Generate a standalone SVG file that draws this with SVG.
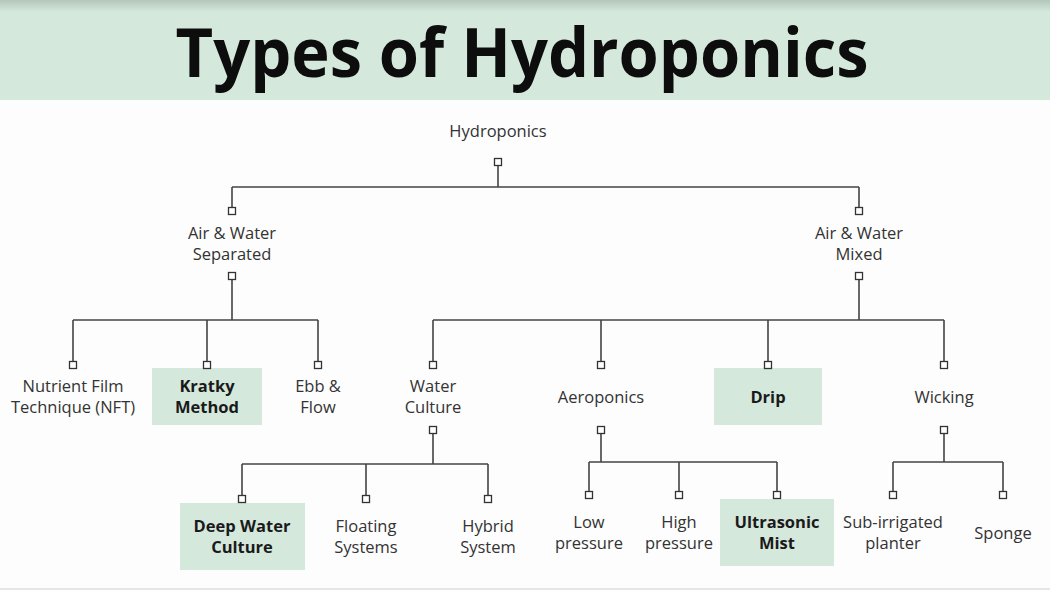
<svg xmlns="http://www.w3.org/2000/svg" width="1050" height="591" viewBox="0 0 1050 591">
  <defs>
    <linearGradient id="topShade" x1="0" y1="0" x2="0" y2="1">
      <stop offset="0" stop-color="#b3c6b9"/>
      <stop offset="1" stop-color="#d5e8dc"/>
    </linearGradient>
  </defs>
  <style>
    .lbl { font-family: "Open Sans", "Liberation Sans", sans-serif; font-size: 16.5px; fill: #333; text-anchor: middle; }
    .bold { font-weight: 700; fill: #1a1a1a; }
    .hl { fill: #d5e8dc; }
    .sq { fill: #fff; stroke: #333; stroke-width: 1.3; }
    .wire { fill: none; stroke: #444; stroke-width: 1.6; }
  </style>
  <rect x="0" y="0" width="1050" height="591" fill="#fdfdfd"/>
  <g id="title">
    <rect x="0" y="0" width="1050" height="100" fill="#d5e8dc"/>
    <rect x="0" y="0" width="1050" height="12" fill="url(#topShade)"/>
    <text x="522" y="77" font-family="'Open Sans', 'Liberation Sans', sans-serif" font-size="68" font-weight="700" fill="#0d0d0d" text-anchor="middle" textLength="693" lengthAdjust="spacingAndGlyphs">Types of Hydroponics</text>
  </g>
  <line x1="0" y1="589" x2="1050" y2="589" stroke="#e6e6e6" stroke-width="2"/>

  <g id="connectors">
    <path class="wire" d="M498 165.5V187 M232 187H859 M232 187V207.5 M859 187V207.5"/>
    <path class="wire" d="M232 279.5V320 M73 320H318 M73 320V361.5 M207 320V361.5 M318 320V361.5"/>
    <path class="wire" d="M859 279.5V320 M433 320H944 M433 320V361.5 M601 320V361.5 M768 320V361.5 M944 320V361.5"/>
    <path class="wire" d="M433 433.5V464 M242 464H488 M242 464V495.5 M366 464V495.5 M488 464V495.5"/>
    <path class="wire" d="M601 433.5V462 M589 462H777 M589 462V491.5 M679 462V491.5 M777 462V491.5"/>
    <path class="wire" d="M944 433.5V462 M893 462H1003 M893 462V491.5 M1003 462V491.5"/>
  </g>

  <g id="node-hydroponics">
    <text class="lbl" x="498" y="137">Hydroponics</text>
    <rect class="sq" x="494.5" y="158.5" width="7" height="7"/>
  </g>
  <g id="node-separated">
    <rect class="sq" x="228.5" y="207.5" width="7" height="7"/>
    <text class="lbl" x="232" y="239">Air &amp; Water</text>
    <text class="lbl" x="232" y="260">Separated</text>
    <rect class="sq" x="228.5" y="272.5" width="7" height="7"/>
  </g>
  <g id="node-mixed">
    <rect class="sq" x="855.5" y="207.5" width="7" height="7"/>
    <text class="lbl" x="859" y="239">Air &amp; Water</text>
    <text class="lbl" x="859" y="260">Mixed</text>
    <rect class="sq" x="855.5" y="272.5" width="7" height="7"/>
  </g>
  <g id="node-nft">
    <rect class="sq" x="69.5" y="361.5" width="7" height="7"/>
    <text class="lbl" x="73" y="392">Nutrient Film</text>
    <text class="lbl" x="73" y="413">Technique (NFT)</text>
  </g>
  <g id="node-kratky">
    <rect class="hl" x="152" y="368" width="110" height="57"/>
    <rect class="sq" x="203.5" y="361.5" width="7" height="7"/>
    <text class="lbl bold" x="207" y="392">Kratky</text>
    <text class="lbl bold" x="207" y="413">Method</text>
  </g>
  <g id="node-ebb">
    <rect class="sq" x="314.5" y="361.5" width="7" height="7"/>
    <text class="lbl" x="318" y="392">Ebb &amp;</text>
    <text class="lbl" x="318" y="413">Flow</text>
  </g>
  <g id="node-water-culture">
    <rect class="sq" x="429.5" y="361.5" width="7" height="7"/>
    <text class="lbl" x="433" y="392">Water</text>
    <text class="lbl" x="433" y="413">Culture</text>
    <rect class="sq" x="429.5" y="426.5" width="7" height="7"/>
  </g>
  <g id="node-aeroponics">
    <rect class="sq" x="597.5" y="361.5" width="7" height="7"/>
    <text class="lbl" x="601" y="403">Aeroponics</text>
    <rect class="sq" x="597.5" y="426.5" width="7" height="7"/>
  </g>
  <g id="node-drip">
    <rect class="hl" x="714" y="368" width="108" height="57"/>
    <rect class="sq" x="764.5" y="361.5" width="7" height="7"/>
    <text class="lbl bold" x="768" y="403">Drip</text>
  </g>
  <g id="node-wicking">
    <rect class="sq" x="940.5" y="361.5" width="7" height="7"/>
    <text class="lbl" x="944" y="403">Wicking</text>
    <rect class="sq" x="940.5" y="426.5" width="7" height="7"/>
  </g>
  <g id="node-dwc">
    <rect class="hl" x="180" y="503" width="125" height="67"/>
    <rect class="sq" x="238.5" y="495.5" width="7" height="7"/>
    <text class="lbl bold" x="242" y="532">Deep Water</text>
    <text class="lbl bold" x="242" y="553">Culture</text>
  </g>
  <g id="node-floating">
    <rect class="sq" x="362.5" y="495.5" width="7" height="7"/>
    <text class="lbl" x="366" y="532">Floating</text>
    <text class="lbl" x="366" y="553">Systems</text>
  </g>
  <g id="node-hybrid">
    <rect class="sq" x="484.5" y="495.5" width="7" height="7"/>
    <text class="lbl" x="488" y="532">Hybrid</text>
    <text class="lbl" x="488" y="553">System</text>
  </g>
  <g id="node-low">
    <rect class="sq" x="585.5" y="491.5" width="7" height="7"/>
    <text class="lbl" x="589" y="528">Low</text>
    <text class="lbl" x="589" y="549">pressure</text>
  </g>
  <g id="node-high">
    <rect class="sq" x="675.5" y="491.5" width="7" height="7"/>
    <text class="lbl" x="679" y="528">High</text>
    <text class="lbl" x="679" y="549">pressure</text>
  </g>
  <g id="node-ultrasonic">
    <rect class="hl" x="720" y="499" width="114" height="67"/>
    <rect class="sq" x="773.5" y="491.5" width="7" height="7"/>
    <text class="lbl bold" x="777" y="528">Ultrasonic</text>
    <text class="lbl bold" x="777" y="549">Mist</text>
  </g>
  <g id="node-subirrigated">
    <rect class="sq" x="889.5" y="491.5" width="7" height="7"/>
    <text class="lbl" x="893" y="528">Sub-irrigated</text>
    <text class="lbl" x="893" y="549">planter</text>
  </g>
  <g id="node-sponge">
    <rect class="sq" x="999.5" y="491.5" width="7" height="7"/>
    <text class="lbl" x="1003" y="539">Sponge</text>
  </g>
</svg>
